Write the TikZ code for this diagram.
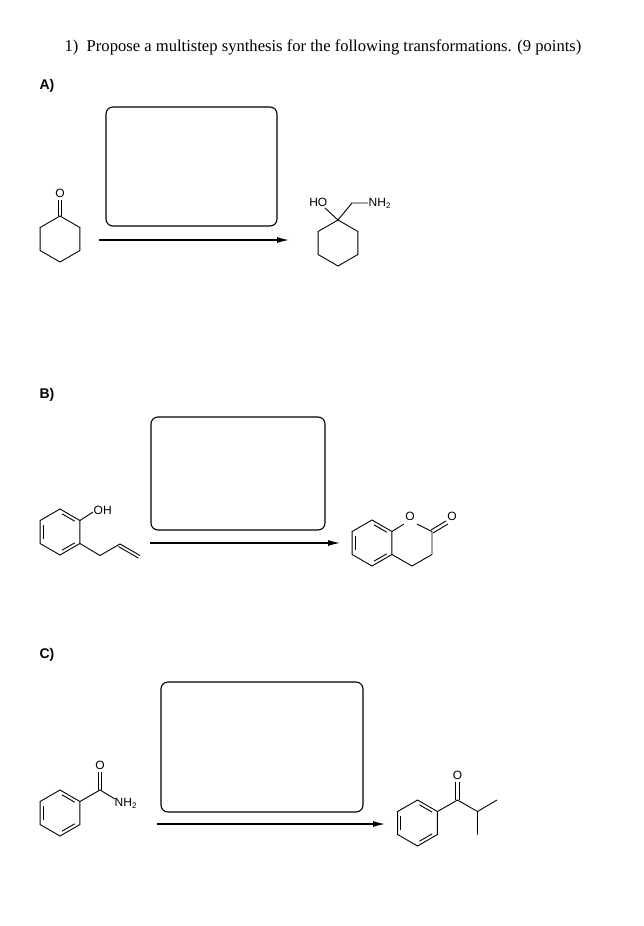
\documentclass[tikz,border=0pt]{standalone}
\usepackage{fontspec}
\setmainfont{Liberation Serif}
\newfontfamily\arial{Liberation Sans}
\usetikzlibrary{calc,arrows.meta}
\newcommand\hexa[3]{%
  \coordinate (#1c) at (#2,#3);
  \coordinate (#1-1) at ($(#1c)+(0,-23)$);
  \coordinate (#1-2) at ($(#1c)+(19.9,-11.5)$);
  \coordinate (#1-3) at ($(#1c)+(19.9,11.5)$);
  \coordinate (#1-4) at ($(#1c)+(0,23)$);
  \coordinate (#1-5) at ($(#1c)+(-19.9,11.5)$);
  \coordinate (#1-6) at ($(#1c)+(-19.9,-11.5)$);
  \draw[bond] (#1-1)--(#1-2)--(#1-3)--(#1-4)--(#1-5)--(#1-6)--cycle;}
\newcommand\dbin[3]{%
  \path coordinate (p1) at ($(#1)!0.84!(#2)$) coordinate (p2) at ($(#1)!0.84!(#3)$);
  \draw[bond] ($(p1)!0.12!(p2)$) -- ($(p2)!0.12!(p1)$);}
\newcommand\benz[1]{\dbin{#1c}{#1-1}{#1-2}\dbin{#1c}{#1-3}{#1-4}\dbin{#1c}{#1-5}{#1-6}}
\newcommand\dbl[2]{%
  \draw[bond] ($(#1)!1.8pt!90:(#2)$) -- ($(#2)!1.8pt!-90:(#1)$);
  \draw[bond] ($(#1)!1.8pt!-90:(#2)$) -- ($(#2)!1.8pt!90:(#1)$);}
\tikzset{bond/.style={line width=0.9pt},
  box/.style={draw,line width=1.1pt,rounded corners=7pt},
  rxn/.style={line width=1.1pt,-{Latex[length=12pt,width=6pt]}},
  atom/.style={font=\arial\fontsize{12}{14}\selectfont,inner sep=0.5pt},
  lab/.style={font=\arial\bfseries\fontsize{14}{16}\selectfont}}
\begin{document}
\begin{tikzpicture}[x=1pt,y=-1pt]
\useasboundingbox (0,0) rectangle (644,926);
\node[font=\fontsize{16.6}{19}\selectfont] (title) at (323,47) {1)\ \ Propose a multistep synthesis for the following transformations. (9 points)};
\node[lab] (la) at (47,86) {A)};
\node[lab] (lb) at (47,395) {B)};
\node[lab] (lc) at (47,655) {C)};
% A
\hexa{a}{60}{239}
\coordinate (aO) at (60,200);
\dbl{a-1}{aO}
\node[atom] (aOl) at (60,193) {O};
\draw[box] (106,107) rectangle (277,226);
\coordinate (a1) at (99,240); \coordinate (a2) at (289,240);
\draw[rxn] (a1) -- (a2);
\hexa{p}{338}{243}
\coordinate (pc) at (352,203);
\node[atom,anchor=east] (ho) at (328,202) {HO};
\draw[bond] (p-1) -- (325,208);
\draw[bond] (p-1) -- (pc) -- (368,203);
\node[atom,anchor=west] (nh) at (368,203) {NH\textsubscript{2}};
% B
\hexa{b}{60}{532}
\benz{b}
\draw[bond] (b-2) -- (93,512);
\node[atom,anchor=west] (boh) at (93,510) {OH};
\coordinate (b7) at (100,555.5); \coordinate (b8) at (120,544); \coordinate (b9) at (140,555.5);
\draw[bond] (b-3)--(b7)--(b8)--(b9);
\draw[bond] ($(b8)!3pt!-90:(b9)$) -- ($(b9)!3pt!90:(b8)$);
\draw[box] (151,417) rectangle (325,530);
\coordinate (b1) at (150,543); \coordinate (b2) at (340,543);
\draw[rxn] (b1) -- (b2);
\hexa{q}{372}{543}
\benz{q}
\coordinate (qC) at (432,531.5);
\coordinate (qD) at (432,554.5); \coordinate (qE) at (412,566);
\coordinate (qX) at (447,522.5);
\node[atom] (qOl) at (410,516) {O};
\draw[bond] (q-2) -- (404,524);
\draw[bond] (417,524) -- (qC) -- (qD) -- (qE) -- (q-3);
\dbl{qC}{qX}
\node[atom] (qXl) at (452,516) {O};
% C
\hexa{c}{60}{813}
\benz{c}
\coordinate (c7) at (100,790);
\draw[bond] (c-2) -- (c7) -- (115,799);
\coordinate (cO) at (100,772);
\dbl{c7}{cO}
\node[atom] (cOl) at (100,765) {O};
\node[atom,anchor=west] (cN) at (114,803) {NH\textsubscript{2}};
\draw[box] (161,682) rectangle (363,812);
\coordinate (c1) at (157,824); \coordinate (c2) at (385,824);
\draw[rxn] (c1) -- (c2);
\hexa{r}{417.5}{823}
\benz{r}
\coordinate (r7) at (457.5,800); \coordinate (rO) at (457.5,782);
\coordinate (r8) at (477.5,811.5); \coordinate (r9) at (477.5,834.5); \coordinate (r10) at (497,800);
\draw[bond] (r-2)--(r7)--(r8)--(r9); \draw[bond] (r8)--(r10);
\dbl{r7}{rO}
\node[atom] (rOl) at (457.5,775) {O};
\end{tikzpicture}
\end{document}
